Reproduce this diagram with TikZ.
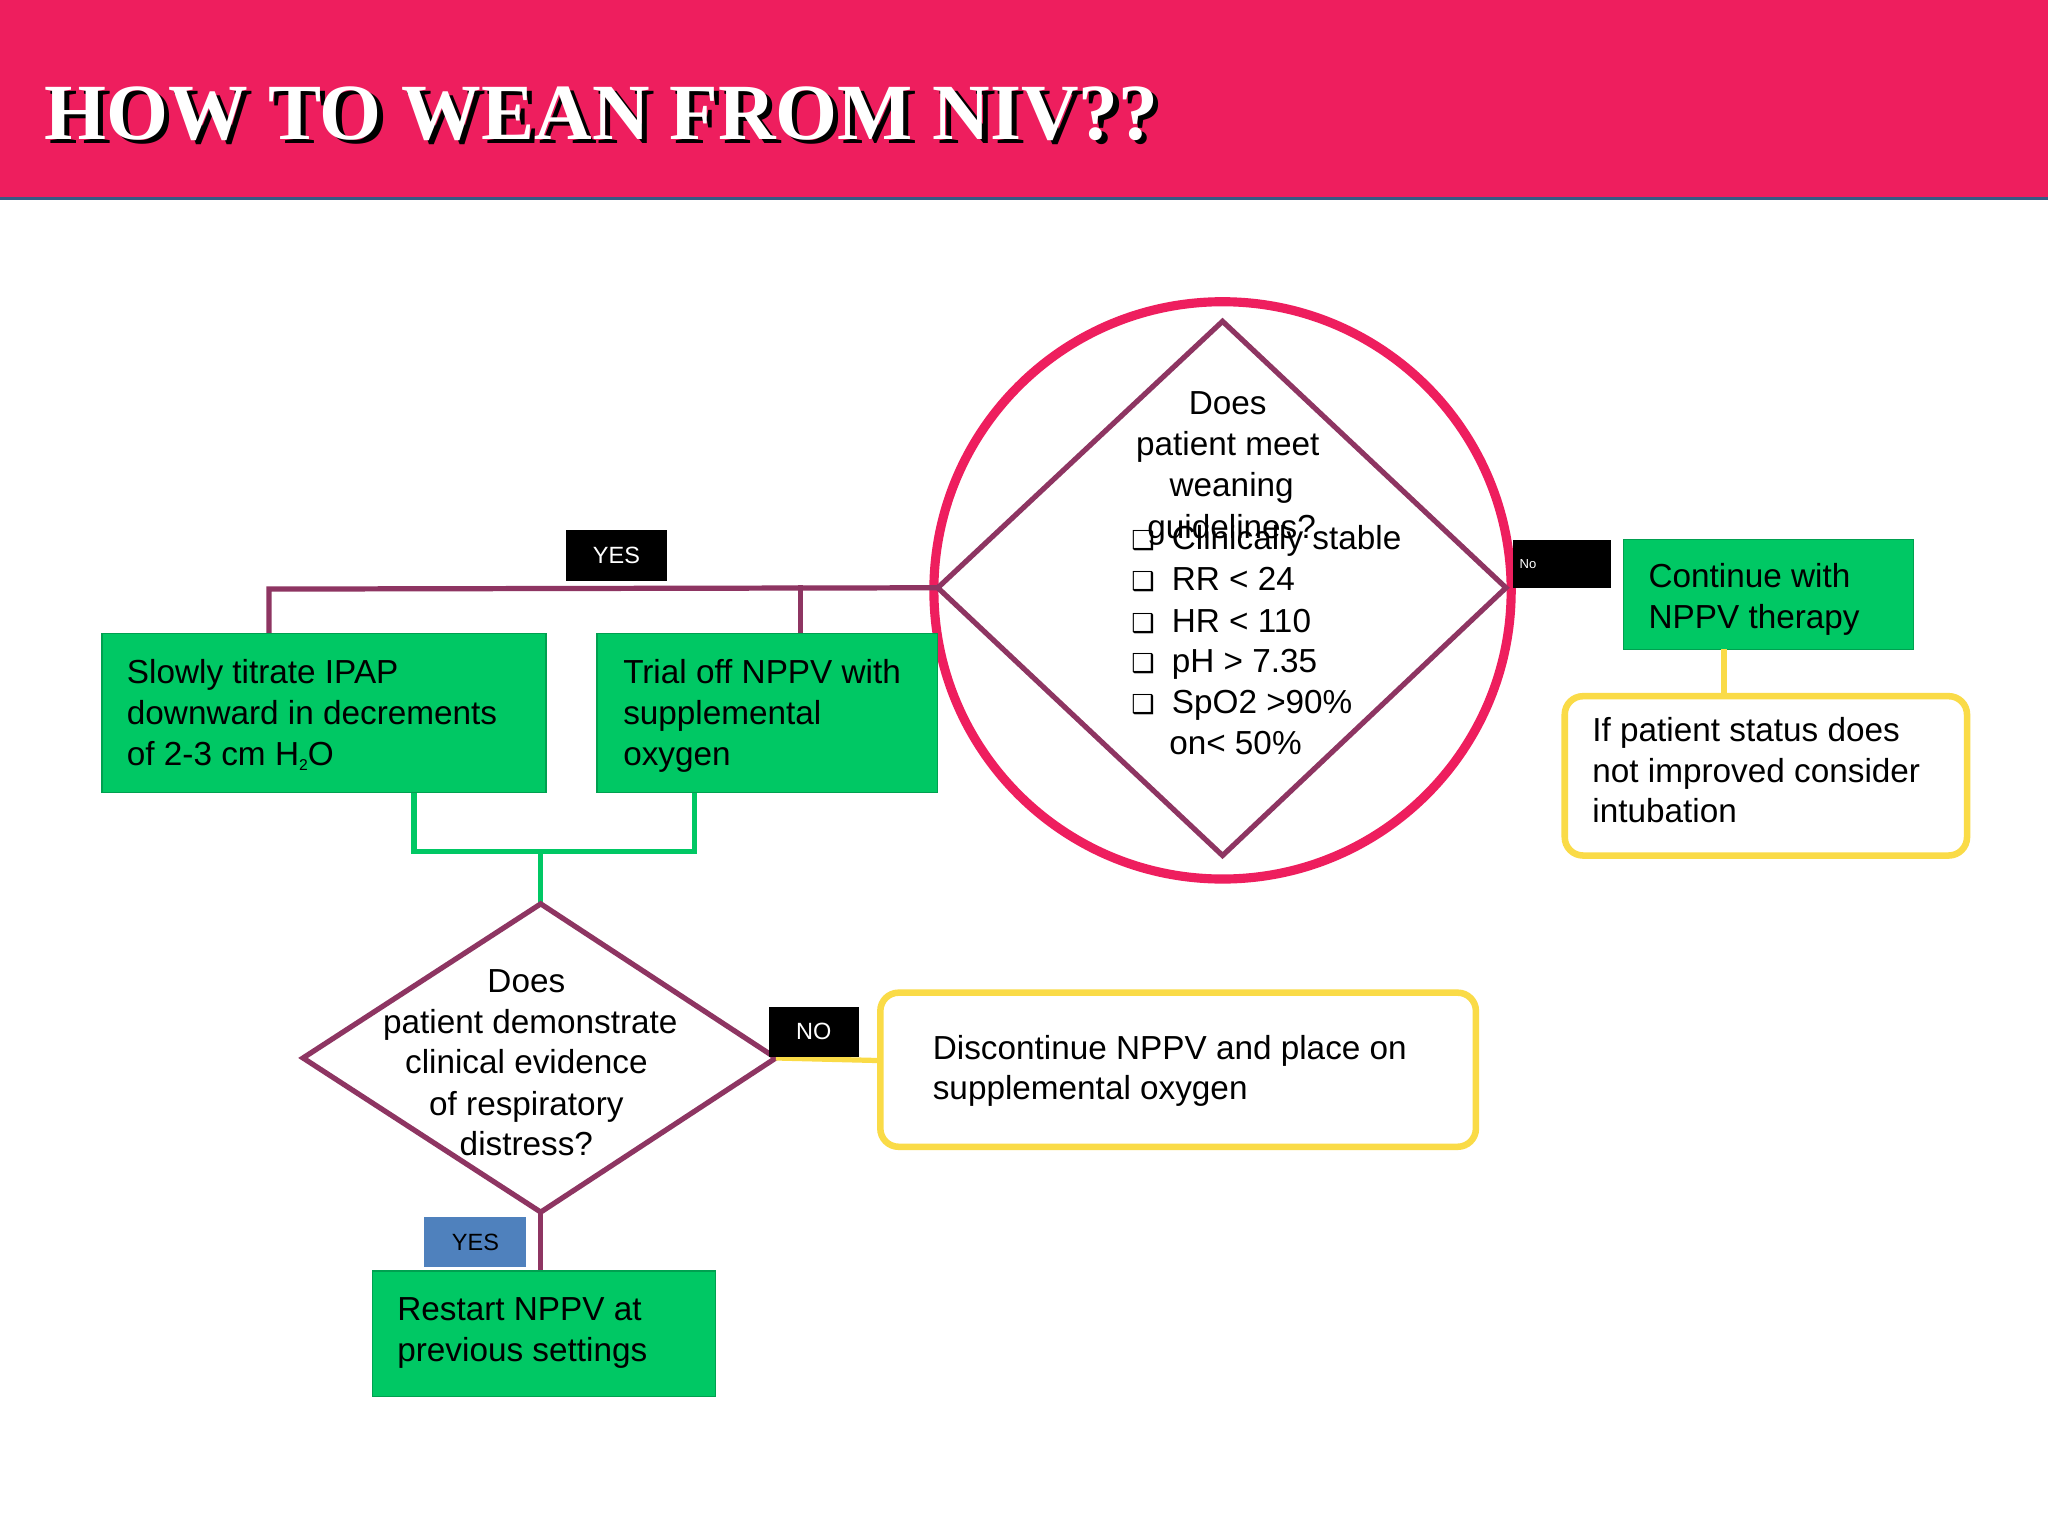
\documentclass[tikz,border=0pt]{standalone}
\usepackage{fontspec}
\setmainfont{Liberation Sans}
\newfontfamily\titlefont{Liberation Serif}
\newfontfamily\dejavu{DejaVu Sans}
\definecolor{pinkc}{HTML}{EE1E5E}
\definecolor{purp}{HTML}{8E3562}
\definecolor{grn}{HTML}{00C864}
\definecolor{yel}{HTML}{FADB47}
\definecolor{blu}{HTML}{4F81BD}
\begin{document}
\begin{tikzpicture}[x=1pt,y=-1pt,
  txt/.style={anchor=base west,inner sep=0,font=\fontsize{25.5}{30}\selectfont},
  ctxt/.style={anchor=base,inner sep=0,font=\fontsize{25.5}{30}\selectfont},
  gbox/.style={fill=grn,draw=grn!80!black,line width=1pt},
  ybox/.style={draw=yel,line width=5pt,rounded corners=14pt},
  plink/.style={draw=purp,line width=4pt},
  lab/.style={fill=black,text=white,inner sep=0,font=\fontsize{18}{20}\selectfont}]
\useasboundingbox (0,0) rectangle (1568,1176);
\fill[white] (0,0) rectangle (1568,1176);
% title
\fill[pinkc] (0,0) rectangle (1568,152);
\draw[blu!70!black,line width=3pt] (0,152) -- (1568,152);
\node[anchor=base west,inner sep=0,text=black,font=\titlefont\bfseries\fontsize{61}{66}\selectfont] at (38,110) {HOW TO WEAN FROM NIV??};
\node[anchor=base west,inner sep=0,text=white,font=\titlefont\bfseries\fontsize{61}{66}\selectfont] (title) at (34,107) {HOW TO WEAN FROM NIV??};
% circle and diamond
\draw[pinkc,line width=7pt] (936,452) circle (221);
\coordinate (dt) at (936,246); \coordinate (dl) at (718,450);
\coordinate (dr) at (1153,450); \coordinate (db) at (936,655);
\draw[plink] (dt) -- (dr) -- (db) -- (dl) -- cycle;
\node[ctxt] at (940,317) {Does};
\node[ctxt] at (940,349) {patient meet};
\node[ctxt] at (943,380) {weaning};
\node[ctxt] at (943,412) {guidelines?};
\foreach \t/\y in {Clinically stable/421,RR < 24/452,HR < 110/484,pH > 7.35/515,SpO2 >90\%/546}{
  \node[txt] at (866,\y) {{\dejavu\bfseries\fontsize{20}{24}\selectfont ❑}};
  \node[txt] at (897,\y) {\t};}
\node[txt] at (895,578) {on< 50\%};
% YES top
\coordinate (yj) at (613,448); \coordinate (yl) at (206,451);
\draw[plink] (dl) -- (yl) -- (206,485);
\draw[plink] (yj) -- (613,485);
\node[lab,minimum width=78,minimum height=39] (yes1) at (472,425) {YES};
% green boxes
\path[gbox] (78,485) rectangle (418,607); \node (b1) at (248,546) {};
\path[gbox] (457,485) rectangle (718,607); \node (b2) at (587,546) {};
\node[txt] at (97,523) {Slowly titrate IPAP};
\node[txt] at (97,555) {downward in decrements};
\node[txt] at (97,586) {of 2-3 cm H\raisebox{-4pt}{\fontsize{12}{12}\selectfont 2}O};
\node[txt] at (477,523) {Trial off NPPV with};
\node[txt] at (477,555) {supplemental};
\node[txt] at (477,586) {oxygen};
\draw[grn,line width=4pt] (317,607) -- (317,652) -- (532,652) -- (532,607);
\coordinate (d2t) at (414,692); \coordinate (d2l) at (232,810);
\coordinate (d2r) at (594,810); \coordinate (d2b) at (414,928);
\draw[grn,line width=4pt] (414,652) -- (d2t);
\draw[plink] (d2t) -- (d2r) -- (d2b) -- (d2l) -- cycle;
\node[ctxt] at (403,760) {Does};
\node[ctxt] at (406,791) {patient demonstrate};
\node[ctxt] at (403,822) {clinical evidence};
\node[ctxt] at (403,854) {of respiratory};
\node[ctxt] at (403,885) {distress?};
% NO branch
\draw[yel,line width=4pt] (d2r) -- (674,812);
\node[lab,minimum width=69,minimum height=38] (no2) at (623,790) {NO};
\draw[ybox] (674,760) rectangle (1130,878); \node (disc) at (902,819) {};
\node[txt] at (714,811) {Discontinue NPPV and place on};
\node[txt] at (714,842) {supplemental oxygen};
% YES bottom
\draw[plink] (d2b) -- (414,973);
\node[fill=blu,minimum width=78,minimum height=38,inner sep=0,font=\fontsize{18}{20}\selectfont] (yes2) at (364,951) {YES};
\path[gbox] (285,973) rectangle (548,1069); \node (rs) at (416,1021) {};
\node[txt] at (304,1011) {Restart NPPV at};
\node[txt] at (304,1042) {previous settings};
% right side
\node[lab,minimum width=75,minimum height=37,font=\fontsize{10}{12}\selectfont,text width=65,align=left] (no1) at (1196,432) {No};
\path[gbox] (1243,413) rectangle (1465,497); \node (cont) at (1354,455) {};
\node[txt] at (1262,450) {Continue with};
\node[txt] at (1262,481) {NPPV therapy};
\draw[yel,line width=4pt] (1320,497) -- (1320,533);
\draw[ybox] (1198,533) rectangle (1506,655); \node (intub) at (1352,594) {};
\node[txt] at (1219,568) {If patient status does};
\node[txt] at (1219,599) {not improved consider};
\node[txt] at (1219,630) {intubation};
\end{tikzpicture}
\end{document}
